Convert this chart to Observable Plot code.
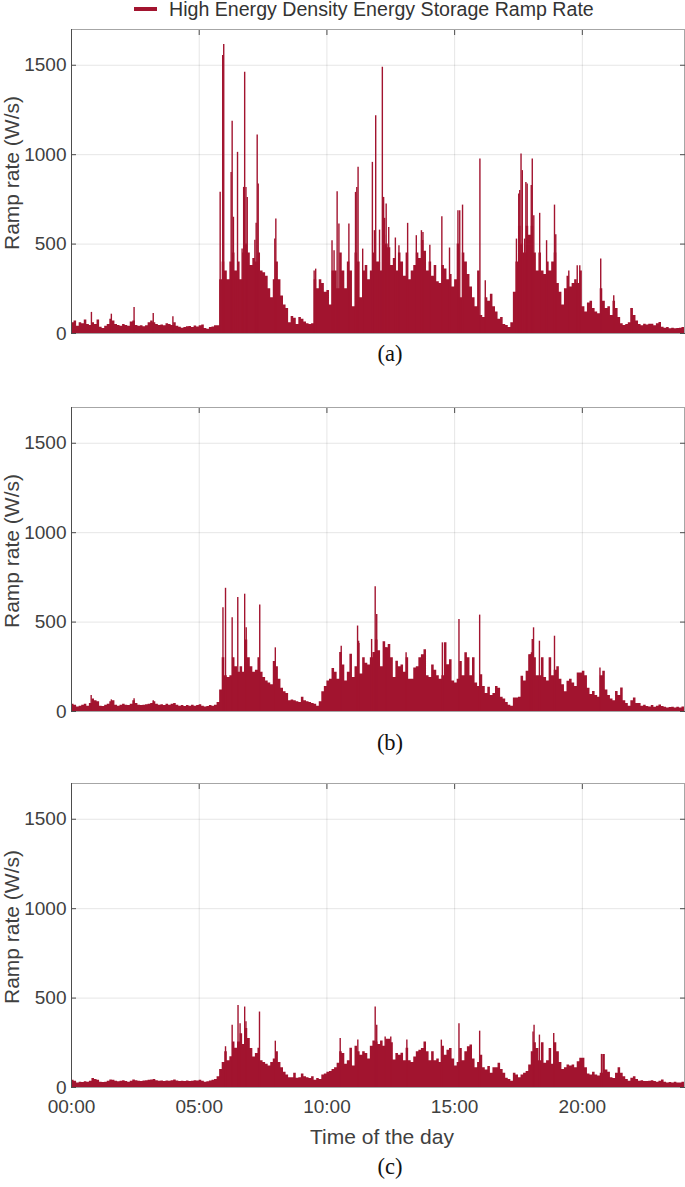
<!DOCTYPE html>
<html>
<head>
<meta charset="utf-8">
<script src="https://cdn.jsdelivr.net/npm/d3@7"></script>
<script src="https://cdn.jsdelivr.net/npm/@observablehq/plot@0.6"></script>
<style>
  html, body { margin: 0; padding: 0; background: #fff; }
  body { width: 685px; height: 1187px; position: relative; overflow: hidden;
         font-family: "Liberation Sans", Arial, sans-serif; color: #404040; }
  .abs { position: absolute; }
  .legend-swatch { width: 23px; height: 4px; background: #A2142F; }
  .legend-text { font-size: 19.6px; line-height: 1; white-space: nowrap; color: #333; }
  .ylab { font-size: 21px; line-height: 1; white-space: nowrap; transform: translate(-50%, -50%) rotate(-90deg); }
  .xlab { font-size: 21px; line-height: 1; white-space: nowrap; transform: translate(-50%, -50%); }
  .tag { font-family: "Liberation Serif", "Times New Roman", serif; font-size: 22.5px; line-height: 1;
         color: #111; transform: translate(-50%, -50%); }
</style>
</head>
<body>
<script>
// ---------------- data ----------------
const STEP = 0.1; // hours per body sample (00:00 .. 23:54)
const hourTicks = [0, 5, 10, 15, 20];
const hourTickLabels = ["00:00", "05:00", "10:00", "15:00", "20:00"];
const rateTicks = [0, 500, 1000, 1500];

// (a) body samples, W/s
const bodyA = [
  60,70,40,60,55,75,50,45,60,50,
  75,35,28,40,50,80,70,50,45,40,
  50,45,40,65,70,45,40,43,38,43,
  60,70,60,50,45,48,43,55,50,45,
  60,40,35,30,34,38,39,33,42,37,
  43,47,28,24,34,37,43,43,300,400,
  350,300,400,450,350,400,300,450,500,450,
  380,420,400,450,350,340,320,250,200,300,
  400,300,210,160,140,60,95,85,50,90,
  80,65,55,50,55,300,250,300,280,230,
  240,160,350,350,250,450,350,250,400,350,
  150,450,400,200,350,380,300,350,450,400,
  400,350,550,500,480,380,420,350,450,400,
  320,450,300,350,380,450,420,520,460,350,
  400,320,380,290,280,380,360,300,330,260,
  300,500,200,450,400,330,260,200,150,350,
  100,90,200,180,220,150,120,80,90,50,
  45,34,60,230,400,600,500,450,600,550,
  600,450,350,450,350,330,400,350,400,450,
  280,230,160,250,320,260,280,300,280,350,
  150,120,170,180,140,120,110,250,180,140,
  150,100,180,140,90,55,45,50,60,140,
  100,70,50,43,52,47,52,52,43,55,
  62,35,30,34,26,30,26,28,30,34
];
const spikeHoursA = [0.78,1.56,2.45,3.2,3.97,5.82,5.92,5.96,6.25,6.29,6.34,6.5,6.68,6.74,6.78,6.83,6.88,7.18,7.23,7.27,7.31,7.96,8.0,9.5,9.56,10.2,10.28,10.4,10.47,10.86,11.12,11.17,11.22,11.4,11.78,11.86,11.91,12.06,12.17,12.22,12.26,12.32,12.42,12.68,12.82,13.16,13.5,13.7,13.76,14.03,14.5,14.8,15.13,15.2,15.31,15.99,16.2,17.42,17.51,17.55,17.6,17.65,17.74,17.79,17.84,18.0,18.04,18.1,18.33,18.6,18.91,18.96,19.47,19.8,19.9,20.72,21.23,21.92];
const spikeRatesA = [118,108,145,112,93,790,1554,1616,900,1187,650,1013,472,817,1461,817,761,522,616,1110,836,528,640,350,360,519,463,793,612,612,789,817,929,472,957,575,1218,578,1489,761,644,724,593,534,491,616,547,575,565,494,653,478,687,687,718,976,295,528,780,799,1004,911,528,845,836,827,976,659,672,519,718,552,350,379,379,416,211,140];

// (b) body samples, W/s
const bodyB = [
  40,35,25,30,35,40,30,45,70,60,
  55,30,28,35,40,55,60,35,30,35,
  40,35,33,40,60,45,35,33,35,38,
  40,45,55,40,35,38,33,40,35,40,
  45,35,30,33,28,33,30,35,30,33,
  38,30,25,28,33,30,35,50,120,300,
  200,190,200,300,250,220,250,220,400,300,
  250,220,230,300,220,190,170,160,150,280,
  250,180,130,110,100,60,65,60,55,50,
  80,60,55,50,45,40,30,55,110,140,
  170,180,240,220,180,330,260,170,220,320,
  190,250,380,210,300,270,260,300,330,400,
  340,250,390,356,375,300,190,281,250,260,
  220,300,180,180,243,250,300,318,346,200,
  190,260,230,200,180,200,384,262,290,170,
  160,180,280,200,328,300,200,300,160,140,
  206,140,100,135,90,100,140,130,80,70,
  50,35,30,75,75,80,197,170,225,318,
  328,300,200,200,300,190,170,300,200,230,
  250,180,150,110,169,180,160,140,215,215,
  225,200,130,95,112,90,80,200,225,120,
  90,70,60,112,90,131,60,45,30,60,
  75,45,45,30,35,28,25,33,24,30,
  37,28,24,20,22,24,20,24,20,25
];
const spikeHoursB = [0.77,1.56,2.45,3.2,5.93,6.03,6.29,6.51,6.78,6.84,7.37,7.98,10.56,11.2,11.24,11.75,11.89,11.95,12.31,13.1,14.52,15.17,15.98,17.96,18.04,18.09,18.32,18.91,20.69];
const spikeRatesB = [90,65,71,60,580,689,524,637,656,468,596,356,365,478,393,403,697,543,356,328,384,515,539,318,403,468,393,421,243];

// (c) body samples, W/s
const bodyC = [
  40,35,25,30,28,32,30,35,50,45,
  40,30,28,30,35,42,40,35,32,35,
  38,33,30,35,42,38,35,33,36,38,
  40,42,45,38,35,36,34,37,35,38,
  42,36,33,35,34,36,33,35,38,36,
  40,35,30,32,36,40,45,60,100,140,
  200,150,172,255,220,255,300,240,330,274,
  218,170,190,220,150,140,130,120,140,160,
  200,140,110,85,70,55,55,80,52,55,
  75,60,55,50,60,40,50,45,70,75,
  85,90,100,110,135,200,190,130,150,220,
  120,230,200,180,200,190,160,230,260,255,
  240,260,230,270,270,250,154,190,180,191,
  150,220,150,140,170,200,209,218,255,200,
  150,200,150,160,140,230,180,209,218,160,
  120,140,218,150,200,228,237,160,110,140,
  180,110,98,117,80,110,110,135,100,80,
  52,45,35,80,70,55,70,80,90,126,
  200,250,218,150,250,135,150,218,130,250,
  200,140,100,110,126,120,126,110,144,163,
  163,110,75,70,85,70,65,80,185,98,
  85,55,50,80,111,80,60,45,35,52,
  60,45,35,38,33,33,35,38,33,30,
  35,42,30,25,28,25,30,25,25,30
];
const spikeHoursC = [6.03,6.29,6.52,6.6,6.78,6.83,7.36,7.98,10.52,11.21,11.89,11.95,12.28,12.5,13.13,14.48,15.17,15.98,18.07,18.11,18.32,18.88,20.75];
const spikeRatesC = [228,348,459,357,450,367,422,259,274,265,450,348,283,283,265,265,357,315,311,348,293,302,185];

const legendLabel = "High Energy Density Energy Storage Ramp Rate";
const yLabel = "Ramp rate (W/s)";
const xLabel = "Time of the day";
const panelTags = ["(a)", "(b)", "(c)"];

// ---------------- drawing ----------------
const RED = "#A2142F";
const AXIS = "#4d4d4d";

function makePanel(body, spikeHours, spikeRates, showXLabels) {
  const mt = 12, ph = 304, mb = showXLabels ? 36 : 14;
  // step series: each sample holds from its start time until the next one; closed at 24:00
  const steps = body.map((v, i) => ({t: i * STEP, v}));
  steps.push({t: body.length * STEP, v: body[body.length - 1]});
  const spikes = spikeHours.map((t, i) => ({t, v: spikeRates[i]}));
  const fmt = (d) => hourTickLabels[hourTicks.indexOf(d)];
  return Plot.plot({
    width: 685,
    height: mt + ph + mb,
    marginTop: mt, marginBottom: mb, marginLeft: 71, marginRight: 1,
    style: {fontFamily: "'Liberation Sans', Arial, sans-serif", fontSize: "19px",
            color: "#404040", background: "transparent", overflow: "visible"},
    x: {domain: [0, 24], label: null},
    y: {domain: [0, 1700], label: null},
    marks: [
      Plot.gridX(hourTicks, {stroke: "#000", strokeOpacity: 0.1}),
      Plot.gridY(rateTicks, {stroke: "#000", strokeOpacity: 0.1}),
      Plot.areaY(steps, {x: "t", y: "v", curve: "step-after", fill: RED}),
      Plot.ruleX(spikes, {x: "t", y1: 0, y2: "v", stroke: RED, strokeWidth: 1.4}),
      Plot.frame({stroke: "#a6a6a6"}),
      Plot.ruleX([0], {stroke: AXIS}),
      Plot.axisY(rateTicks, {anchor: "left", tickSize: 0, tickPadding: 5, fontSize: 19, tickFormat: (d) => String(d)}),
      Plot.axisY(rateTicks, {anchor: "left", tickSize: -5, stroke: AXIS, tickFormat: () => ""}),
      Plot.axisY(rateTicks, {anchor: "right", tickSize: -5, stroke: AXIS, tickFormat: () => ""}),
      Plot.axisX(hourTicks, {anchor: "top", tickSize: -5, stroke: AXIS, tickFormat: () => ""}),
      showXLabels
        ? Plot.axisX(hourTicks, {anchor: "bottom", tickSize: 0, tickPadding: 12, fontSize: 19, tickFormat: fmt})
        : null
    ]
  });
}

function place(el, left, top) {
  el.classList.add("abs");
  el.style.left = left + "px";
  el.style.top = top + "px";
  document.body.appendChild(el);
  return el;
}
function textDiv(cls, txt, left, top) {
  const d = document.createElement("div");
  d.className = cls;
  d.textContent = txt;
  return place(d, left, top);
}

// legend
const sw = document.createElement("div");
sw.className = "legend-swatch";
place(sw, 134, 7);
textDiv("legend-text", legendLabel, 169, 0);

// panels
const panels = [
  {body: bodyA, sh: spikeHoursA, sr: spikeRatesA, top: 17, x: false, tagY: 354},
  {body: bodyB, sh: spikeHoursB, sr: spikeRatesB, top: 395, x: false, tagY: 743},
  {body: bodyC, sh: spikeHoursC, sr: spikeRatesC, top: 771, x: true, tagY: 1167}
];
panels.forEach((p, k) => {
  const svg = makePanel(p.body, p.sh, p.sr, p.x);
  place(svg, 0, p.top);
  textDiv("ylab", yLabel, 11, p.top + 12 + 144);
  textDiv("tag", panelTags[k], 390, p.tagY);
});
textDiv("xlab", xLabel, 382, 1136);
</script>
</body>
</html>
